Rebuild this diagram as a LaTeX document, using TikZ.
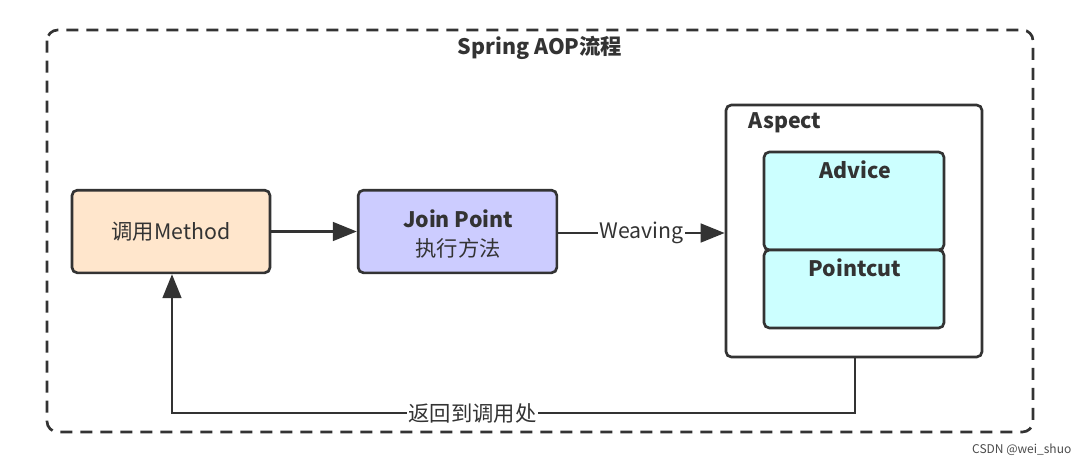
\documentclass[tikz,border=0pt]{standalone}
\usepackage{fontspec}
\setmainfont{Noto Sans CJK SC}
\usetikzlibrary{arrows.meta}
\definecolor{peach}{HTML}{FFE6CC}
\definecolor{lav}{HTML}{CCCCFF}
\definecolor{cyanl}{HTML}{CCFFFF}
\definecolor{edge}{HTML}{333333}
\begin{document}
\begin{tikzpicture}[x=0.75pt,y=-0.75pt,
  box/.style={draw=edge,line width=2pt,rounded corners=4pt},
  arr/.style={draw=edge,line width=2pt,-{Triangle[length=18pt,width=14pt]}},
  lbl/.style={font=\fontsize{16}{18}\selectfont,text=edge},
  blbl/.style={font=\fontsize{16}{18}\selectfont\bfseries,text=edge}]
\fill[white] (0,0) rectangle (1080,465);
\useasboundingbox (0,0) rectangle (1080,465);
\draw[edge,line width=2pt,dash pattern=on 9pt off 6pt,rounded corners=8pt] (47,30) rectangle (1033,432);
\node[blbl] (title) at (540,48) {Spring AOP流程};
\node[box,fill=peach,minimum width=148.5pt,minimum height=62pt,lbl] (m) at (171,231.5) {调用Method};
\node[box,fill=lav,minimum width=149pt,minimum height=62pt] (j) at (457.5,231.5) {};
\node[blbl] (jt) at (458,219) {Join Point};
\node[lbl] (jt2) at (458,248) {执行方法};
\node[box,fill=white,minimum width=192pt,minimum height=189pt] (a) at (854,231) {};
\node[blbl,anchor=west] (at) at (744,123) {Aspect};
\node[box,fill=cyanl,minimum width=135pt,minimum height=73.5pt] (adv) at (854,201) {};
\node[blbl] (advt) at (855,170) {Advice};
\node[box,fill=cyanl,minimum width=135pt,minimum height=58.5pt] (pc) at (854,289) {};
\node[blbl] (pct) at (855,268) {Pointcut};
\draw[arr] (m.east) -- (j.west);
\draw[arr] (j.east|-0,233) -- node[lbl,fill=white,inner sep=1pt]{Weaving} (a.west|-0,233);
\coordinate (c1) at (855,413);
\coordinate (c2) at (172,413);
\draw[arr] (a.south-|855,0) -- (c1) -- node[lbl,fill=white,inner sep=1pt,pos=0.56]{返回到调用处} (c2) -- (m.south-|172,0);
\node[font=\fontsize{9}{10}\selectfont,text=black!70,anchor=east] (wm) at (1076,450) {CSDN @wei\_shuo};
\end{tikzpicture}
\end{document}
